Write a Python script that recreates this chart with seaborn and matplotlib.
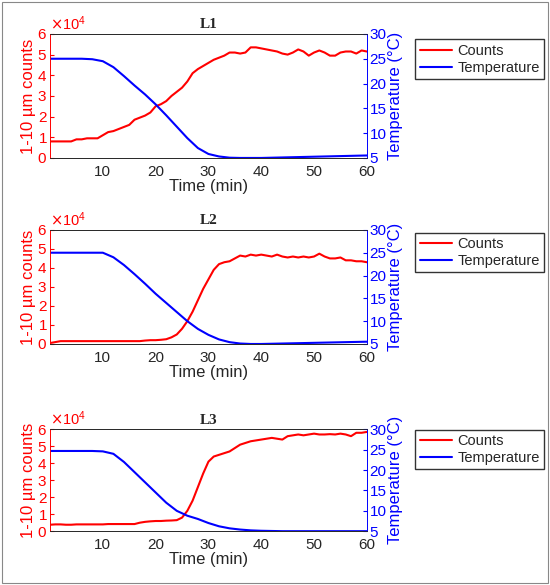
import numpy as np
import pandas as pd
import matplotlib
matplotlib.use("Agg")
import matplotlib.pyplot as plt
import seaborn as sns
from matplotlib.ticker import ScalarFormatter

sns.set_style("white")
plt.rcParams['font.family'] = ['Liberation Sans', 'DejaVu Sans']

t_counts = list(range(61))
t_temp = list(range(0, 61, 2))

# counts (x 1e4), one value per minute
counts_l1 = [0.8, 0.8, 0.8, 0.8, 0.8, 0.9, 0.9, 0.95, 0.95, 0.95, 1.1, 1.25, 1.3, 1.4, 1.5, 1.6,
             1.85, 1.95, 2.05, 2.2, 2.5, 2.6, 2.75, 3.0, 3.2, 3.4, 3.7, 4.1, 4.3, 4.45, 4.6,
             4.75, 4.85, 4.95, 5.1, 5.1, 5.05, 5.1, 5.35, 5.35, 5.3, 5.25, 5.2, 5.15, 5.05, 5.0,
             5.1, 5.25, 5.15, 4.95, 5.1, 5.2, 5.1, 4.95, 4.95, 5.1, 5.15, 5.15, 5.05, 5.2, 5.15]
counts_l2 = [0.05, 0.1, 0.15, 0.15, 0.15, 0.15, 0.15, 0.15, 0.15, 0.15, 0.15, 0.15, 0.15, 0.15, 0.15, 0.15,
             0.15, 0.15, 0.18, 0.2, 0.2, 0.22, 0.25, 0.35, 0.5, 0.8, 1.2, 1.7, 2.3, 2.9, 3.4,
             3.9, 4.2, 4.3, 4.35, 4.5, 4.65, 4.6, 4.7, 4.65, 4.7, 4.65, 4.6, 4.7, 4.6, 4.55,
             4.6, 4.55, 4.6, 4.55, 4.6, 4.75, 4.6, 4.5, 4.5, 4.55, 4.4, 4.4, 4.35, 4.35, 4.3]
counts_l3 = [0.38, 0.4, 0.4, 0.38, 0.38, 0.4, 0.4, 0.4, 0.4, 0.4, 0.4, 0.42, 0.42, 0.42, 0.42, 0.42,
             0.42, 0.5, 0.55, 0.58, 0.6, 0.6, 0.62, 0.63, 0.65, 0.8, 1.2, 1.8, 2.6, 3.4, 4.1,
             4.4, 4.5, 4.6, 4.7, 4.9, 5.1, 5.2, 5.3, 5.35, 5.4, 5.45, 5.5, 5.45, 5.4, 5.6,
             5.65, 5.7, 5.65, 5.7, 5.75, 5.7, 5.7, 5.72, 5.7, 5.75, 5.7, 5.6, 5.8, 5.8, 5.85]

# temperature (°C), every 2 min
temp_l1 = [25, 25, 25, 25, 24.9, 24.5, 23.3, 21.5, 19.6, 17.8, 15.8, 13.6, 11.3, 9.0, 7.0, 5.8,
           5.3, 5.05, 5.0, 5.0, 5.0, 5.05, 5.1, 5.15, 5.2, 5.25, 5.3, 5.35, 5.4, 5.45, 5.5]
temp_l2 = [25, 25, 25, 25, 25, 25, 24.0, 22.3, 20.3, 18.2, 16.0, 14.0, 12.0, 10.0, 8.3, 7.0,
           6.0, 5.4, 5.1, 5.0, 5.0, 5.05, 5.1, 5.15, 5.2, 5.25, 5.3, 5.35, 5.4, 5.45, 5.5]
temp_l3 = [24.7, 24.7, 24.7, 24.7, 24.7, 24.6, 24.0, 22.0, 19.5, 17.0, 14.5, 12.0, 10.0, 8.8, 8.0, 7.0,
           6.2, 5.7, 5.4, 5.2, 5.1, 5.05, 5.0, 5.0, 5.0, 5.0, 5.0, 5.0, 5.0, 5.0, 5.0]

titles = ['L1', 'L2', 'L3']
all_counts = [counts_l1, counts_l2, counts_l3]
all_temps = [temp_l1, temp_l2, temp_l3]

fig = plt.figure(figsize=(5.5, 5.85), dpi=100)
fig.patches.append(plt.Rectangle((0.004, 0.004), 0.992, 0.992, transform=fig.transFigure,
                                 fill=False, edgecolor='#888888', lw=0.8))

# axes boxes in figure fraction: (bottom, height, legend top)
boxes = [(0.730, 0.212, 0.945), (0.412, 0.195, 0.615), (0.092, 0.174, 0.278)]
for title, cnt, tmp, (b, h, legtop) in zip(titles, all_counts, all_temps, boxes):
    ax = fig.add_axes([0.091, b, 0.576, h])
    ax2 = ax.twinx()
    d1 = pd.DataFrame({'t': t_counts, 'c': np.array(cnt) * 1e4})
    d2 = pd.DataFrame({'t': t_temp, 'T': tmp})
    sns.lineplot(data=d1, x='t', y='c', ax=ax, color='#ff0000', lw=1.5, label='Counts', legend=False)
    sns.lineplot(data=d2, x='t', y='T', ax=ax2, color='#0000ff', lw=1.5, label='Temperature', legend=False)
    ax.set_xlim(0, 60)
    ax.set_ylim(0, 6e4)
    ax2.set_ylim(5, 30)
    ax.set_xticks([10, 20, 30, 40, 50, 60])
    ax.set_yticks(np.arange(0, 6.1e4, 1e4))
    ax2.set_yticks([5, 10, 15, 20, 25, 30])
    fmt = ScalarFormatter(useMathText=True)
    fmt.set_powerlimits((0, 0))
    ax.yaxis.set_major_formatter(fmt)
    ax.yaxis.get_offset_text().set_color('#ff0000')
    ax.yaxis.get_offset_text().set_fontsize(10.5)
    ax.set_xlabel('Time (min)', fontsize=12, labelpad=0)
    ax.set_ylabel('1-10 µm counts', fontsize=12, color='#ff0000', labelpad=1)
    ax2.set_ylabel('Temperature (°C)', fontsize=12, color='#0000ff', labelpad=1)
    ax.set_title(title, fontsize=11, fontweight='bold', family='Liberation Serif', pad=4)
    ax.tick_params(axis='x', labelsize=11, length=3, direction='in', pad=5)
    ax.tick_params(axis='y', colors='#ff0000', labelsize=11, length=3, direction='in', pad=2)
    ax2.tick_params(axis='y', colors='#0000ff', labelsize=11, length=3, direction='in', pad=2)
    for a in (ax, ax2):
        for s in a.spines.values():
            s.set_linewidth(0.6)
        a.spines['left'].set_color('#ff0000')
        a.spines['right'].set_color('#0000ff')
    h1, l1 = ax.get_legend_handles_labels()
    h2, l2 = ax2.get_legend_handles_labels()
    fig.legend(h1 + h2, l1 + l2, loc='upper left', bbox_to_anchor=(0.742, legtop),
               fontsize=10.5, frameon=True, fancybox=False, edgecolor='black',
               handlelength=2.2, borderpad=0.3, labelspacing=0.2, handletextpad=0.4)

fig.savefig('out.png', dpi=100)
